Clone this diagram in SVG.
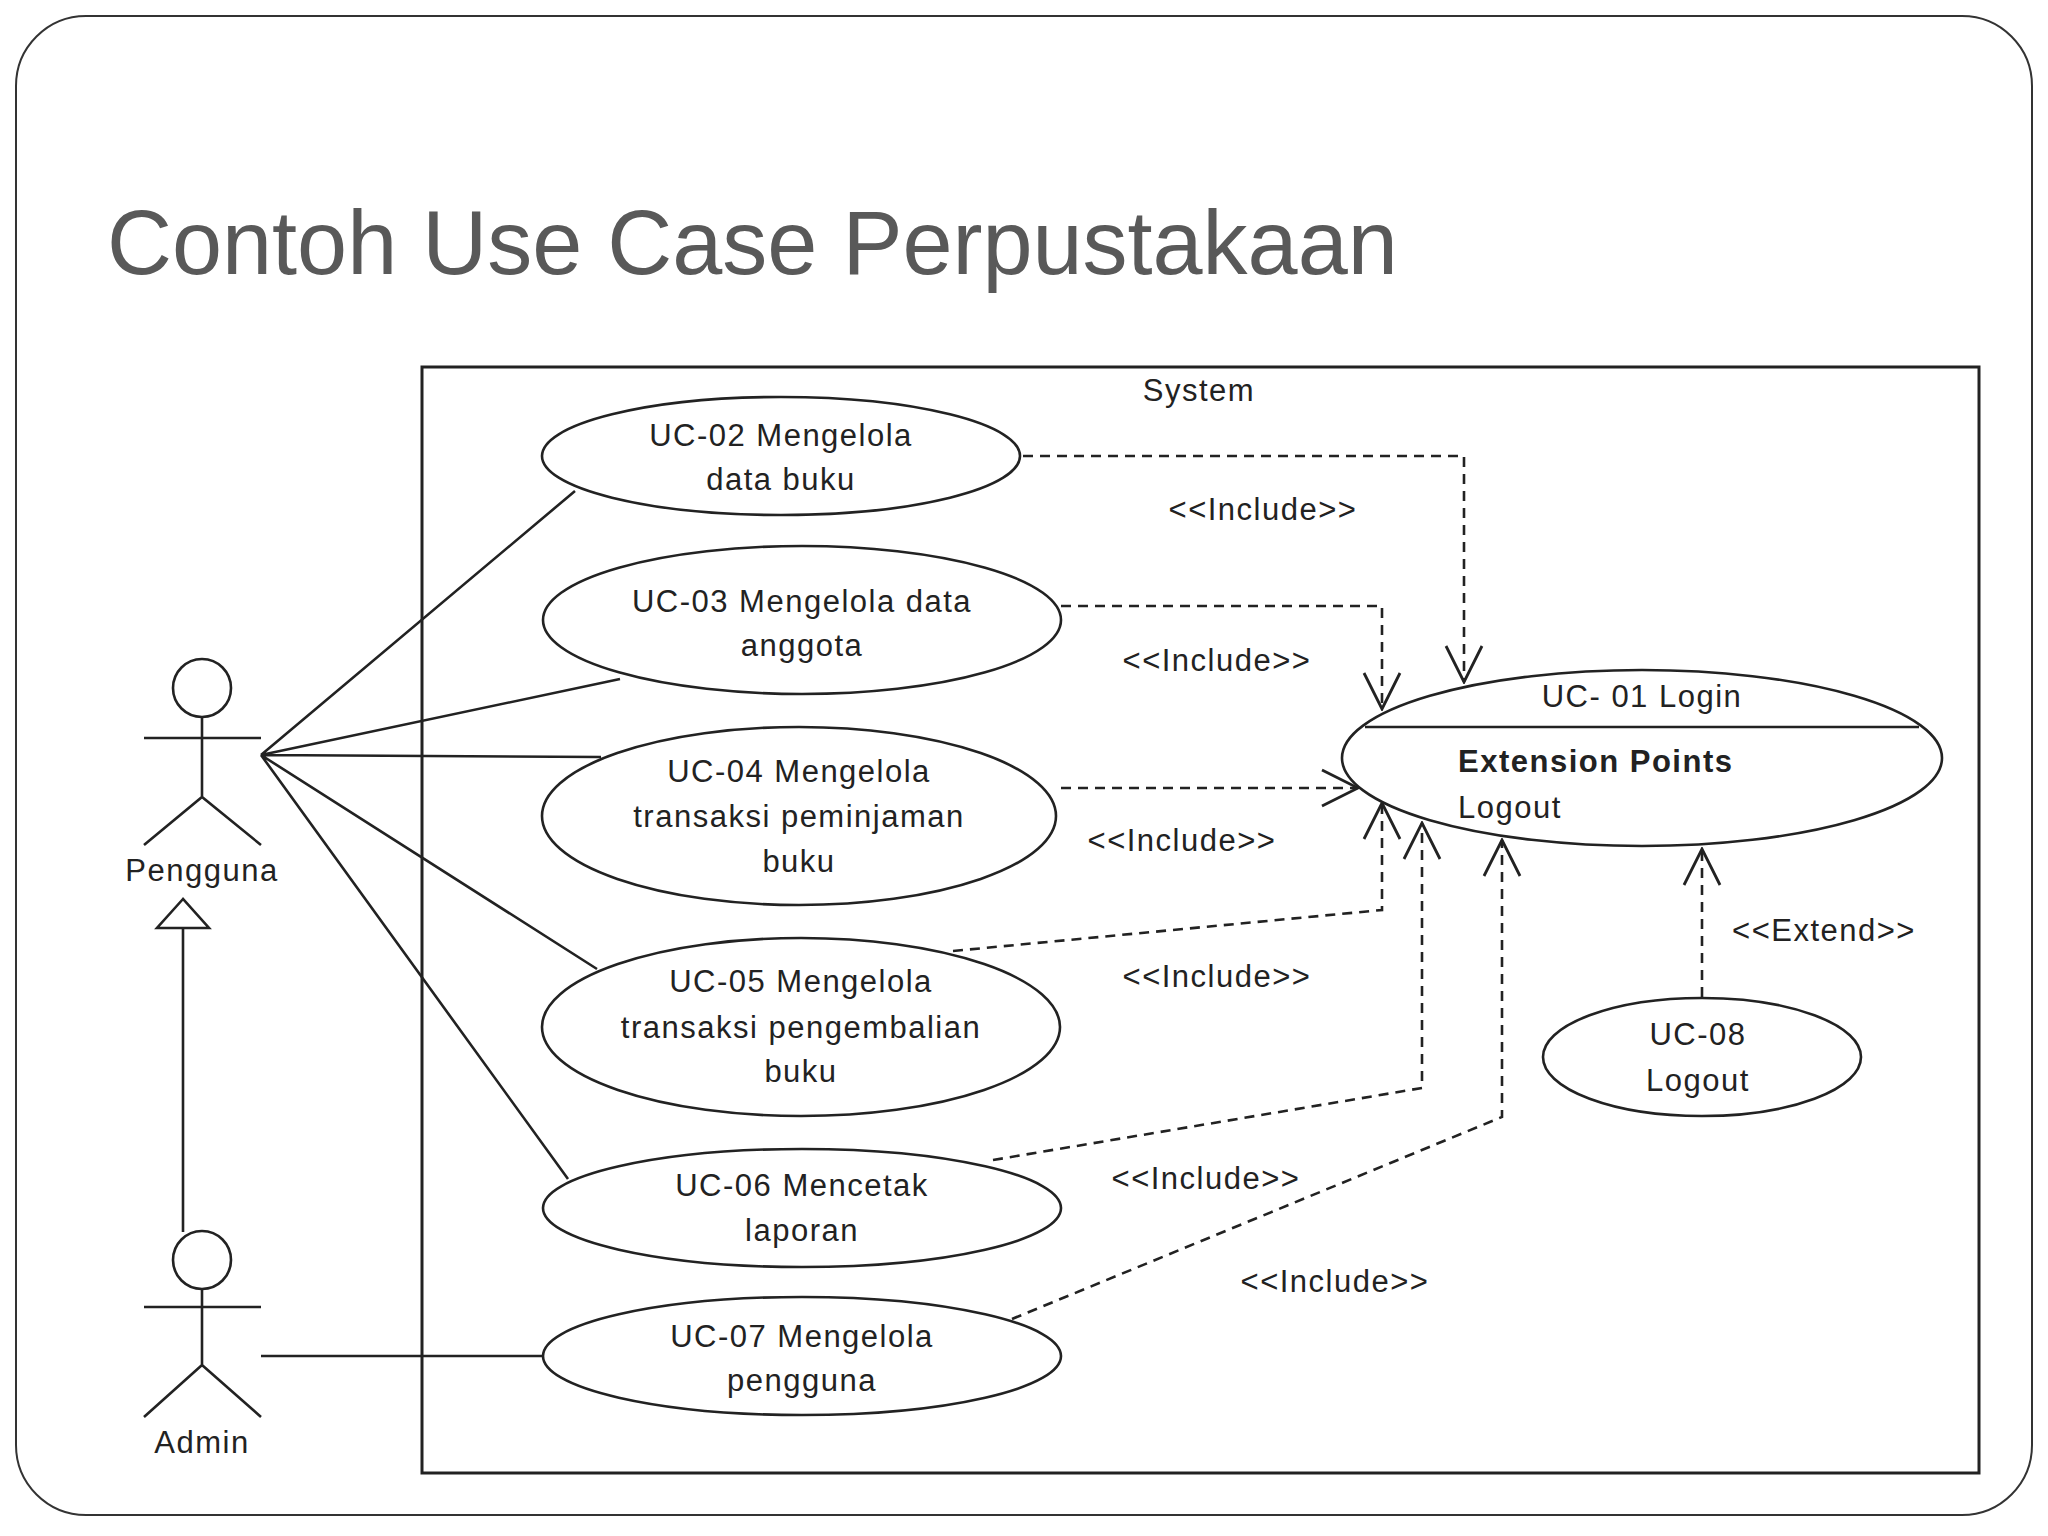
<svg xmlns="http://www.w3.org/2000/svg" width="2048" height="1536" viewBox="0 0 2048 1536">
<style>
.t{font-family:"Liberation Sans",Arial,sans-serif;font-size:31px;letter-spacing:1.5px;fill:#222;text-anchor:middle;dominant-baseline:central}
.s{fill:none;stroke:#222;stroke-width:2.6}
.d{fill:none;stroke:#222;stroke-width:2.6;stroke-dasharray:10 7}
.e{fill:#fff;stroke:#222;stroke-width:2.6}
</style>
<defs>
<marker id="oa" viewBox="0 0 40 40" refX="38" refY="20" markerWidth="40" markerHeight="40" markerUnits="userSpaceOnUse" orient="auto">
<path d="M2,2 L38,20 L2,38" fill="none" stroke="#222" stroke-width="2.8"/>
</marker>
</defs>
<rect width="2048" height="1536" fill="#fff"/>
<rect x="16" y="16" width="2016" height="1499" rx="70" fill="#fff" stroke="#333" stroke-width="2"/>
<text x="107" y="274" font-family="Liberation Sans,Arial,sans-serif" font-size="90" fill="#595959">Contoh Use Case Perpustakaan</text>
<rect x="422" y="367" width="1557" height="1106" fill="#fff" stroke="#222" stroke-width="3"/>
<text class="t" x="1199" y="390">System</text>
<g id="connectors">
<path class="s" d="M261,755 L575,491 M261,755 L620,679 M261,755 L601,757 M261,755 L597,969 M261,755 L568,1179 M261,1356 L542,1356"/>
<path class="s" d="M183,1232 L183,928"/>
<path d="M183,899 L157,928 L209,928 Z" fill="#fff" stroke="#222" stroke-width="2.6"/>
<path class="d" d="M1023,456 L1464,456 L1464,682" marker-end="url(#oa)"/>
<path class="d" d="M1061,606 L1382,606 L1382,709" marker-end="url(#oa)"/>
<path class="d" d="M1061,788 L1358,788" marker-end="url(#oa)"/>
<path class="d" d="M953,951 L1382,910 L1382,803" marker-end="url(#oa)"/>
<path class="d" d="M993,1160 L1422,1088 L1422,823" marker-end="url(#oa)"/>
<path class="d" d="M1012,1319 L1502,1117 L1502,840" marker-end="url(#oa)"/>
<path class="d" d="M1702,997 L1702,849" marker-end="url(#oa)"/>
<text class="t" x="1263" y="509">&lt;&lt;Include&gt;&gt;</text>
<text class="t" x="1217" y="660">&lt;&lt;Include&gt;&gt;</text>
<text class="t" x="1182" y="840">&lt;&lt;Include&gt;&gt;</text>
<text class="t" x="1217" y="976">&lt;&lt;Include&gt;&gt;</text>
<text class="t" x="1206" y="1178">&lt;&lt;Include&gt;&gt;</text>
<text class="t" x="1335" y="1281">&lt;&lt;Include&gt;&gt;</text>
<text class="t" x="1824" y="930">&lt;&lt;Extend&gt;&gt;</text>
</g>
<g id="pengguna">
<circle class="e" cx="202" cy="688" r="29"/>
<path class="s" d="M202,717 L202,797 M144,738 L261,738 M144,845 L202,797 L261,845"/>
<text class="t" x="202" y="870">Pengguna</text>
</g>
<g id="admin">
<circle class="e" cx="202" cy="1260" r="29"/>
<path class="s" d="M202,1289 L202,1365 M144,1307 L261,1307 M144,1417 L202,1365 L261,1417"/>
<text class="t" x="202" y="1442">Admin</text>
</g>
<g id="uc02"><ellipse class="e" cx="781" cy="456" rx="239" ry="59"/><text class="t" x="781" y="435">UC-02   Mengelola</text><text class="t" x="781" y="479">data buku</text></g>
<g id="uc03"><ellipse class="e" cx="802" cy="620" rx="259" ry="74"/><text class="t" x="802" y="601">UC-03  Mengelola data</text><text class="t" x="802" y="645">anggota</text></g>
<g id="uc04"><ellipse class="e" cx="799" cy="816" rx="257" ry="89"/><text class="t" x="799" y="771">UC-04  Mengelola</text><text class="t" x="799" y="816">transaksi peminjaman</text><text class="t" x="799" y="861">buku</text></g>
<g id="uc05"><ellipse class="e" cx="801" cy="1027" rx="259" ry="89"/><text class="t" x="801" y="981">UC-05  Mengelola</text><text class="t" x="801" y="1027">transaksi pengembalian</text><text class="t" x="801" y="1071">buku</text></g>
<g id="uc06"><ellipse class="e" cx="802" cy="1208" rx="259" ry="59"/><text class="t" x="802" y="1185">UC-06  Mencetak</text><text class="t" x="802" y="1230">laporan</text></g>
<g id="uc07"><ellipse class="e" cx="802" cy="1356" rx="259" ry="59"/><text class="t" x="802" y="1336">UC-07 Mengelola</text><text class="t" x="802" y="1380">pengguna</text></g>
<g id="uc01"><ellipse class="e" cx="1642" cy="758" rx="300" ry="88"/><path class="s" d="M1365,727 L1919,727"/><text class="t" x="1642" y="696">UC- 01 Login</text><text class="t" x="1458" y="761" style="text-anchor:start;font-weight:bold">Extension Points</text><text class="t" x="1458" y="807" style="text-anchor:start">Logout</text></g>
<g id="uc08"><ellipse class="e" cx="1702" cy="1057" rx="159" ry="59"/><text class="t" x="1698" y="1034">UC-08</text><text class="t" x="1698" y="1080">Logout</text></g>
</svg>
